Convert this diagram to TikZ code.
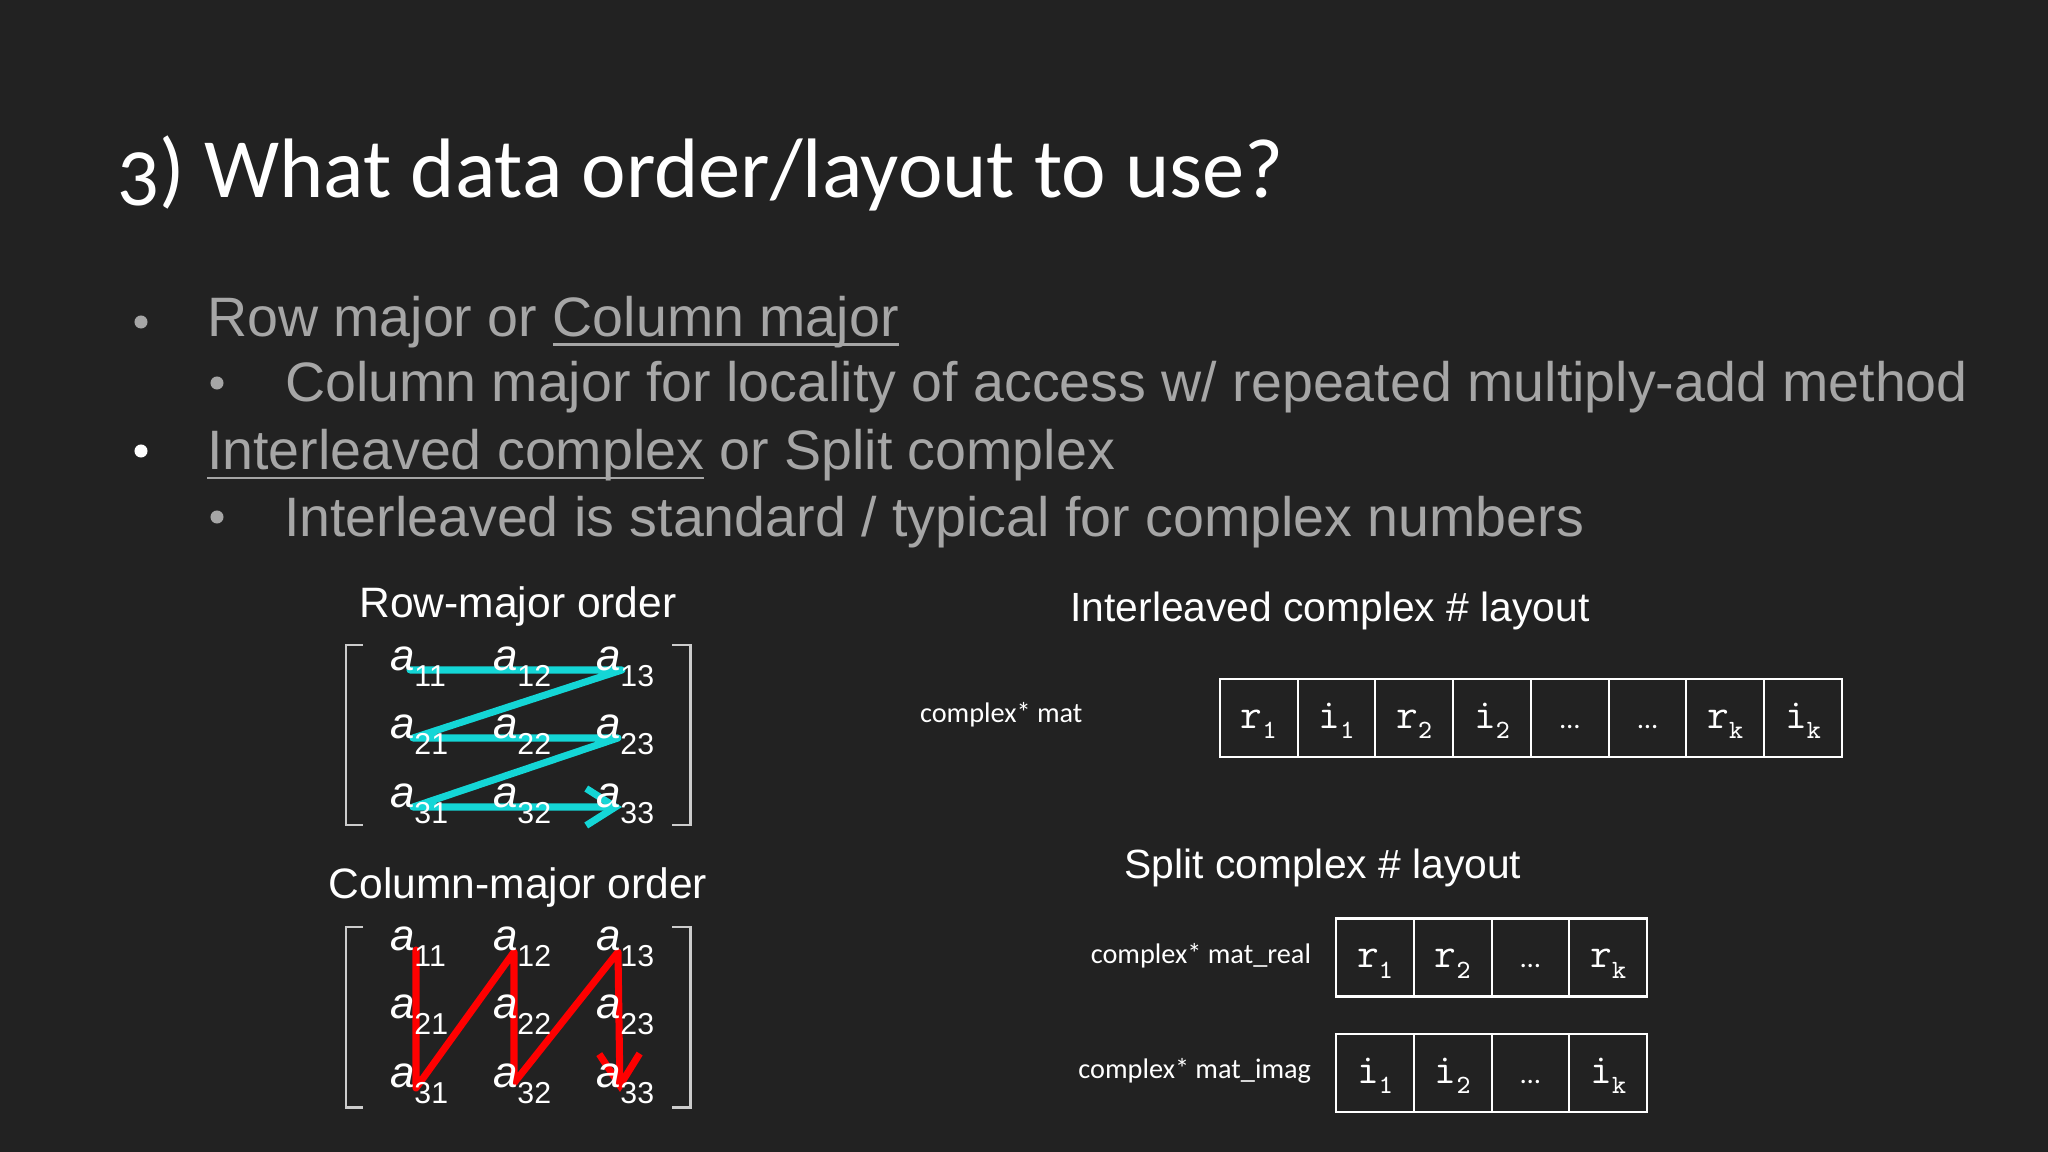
\documentclass[tikz,border=0pt]{standalone}
\usepackage{fontspec}
\setmainfont{Liberation Sans}
\newfontfamily\titlefont[Numbers=OldStyle]{Carlito}
\newfontfamily\labelfont{Carlito}
\usetikzlibrary{arrows.meta, positioning, calc}
\definecolor{SlideBg}{RGB}{34,34,34}
\definecolor{BulletGray}{RGB}{166,166,166}
\definecolor{RowCyan}{RGB}{20,214,214}
\definecolor{ColRed}{RGB}{255,0,0}
\pgfdeclarelayer{background}
\pgfsetlayers{background,main}

% thick underline as on the slide
\newcommand{\ulthick}[1]{\setbox0\hbox{#1}\rlap{\rule[-2.7pt]{\wd0}{0.85pt}}\box0\relax}
% matrix entry a_ij
\newcommand{\aentry}[1]{{\fontsize{12.5}{14}\selectfont\itshape a}\raisebox{-4.6pt}{\fontsize{8.6}{10}\selectfont #1}}
% memory cell content
\newcommand{\memsub}[2]{{\ttfamily\fontsize{12}{14}\selectfont #1}\raisebox{-3.1pt}{\ttfamily\fontsize{7.5}{9}\selectfont #2}}
\newcommand{\memdots}{{\labelfont\fontsize{8.05}{10}\selectfont …}}

\begin{document}
\begin{tikzpicture}[
    x=0.01cm, y=-0.01cm,
    every node/.style={inner sep=0pt, outer sep=0pt, text=white},
    bullettext/.style={anchor=base west, text=BulletGray, font=\fontsize{15.8}{19}\selectfont},
    bulletdot/.style={circle, fill=BulletGray, minimum size=3.7pt},
    caption/.style={anchor=base, font=\fontsize{12.1}{14}\selectfont},
    layoutcap/.style={anchor=base, font=\fontsize{11.6}{14}\selectfont},
    ptrlabel/.style={font=\labelfont\fontsize{8.05}{10}\selectfont},
    entry/.style={anchor=base west},
    memcell/.style={draw=white, line width=0.6pt, minimum width=0.777cm,
                    minimum height=0.78cm, text height=5.7pt, text depth=0pt},
    bracket/.style={draw=white!80!black, line width=0.85pt},
    rowpath/.style={RowCyan, line width=2pt, line cap=round, line join=round},
    colpath/.style={ColRed, line width=2pt, line cap=round, line join=round}
]
\begin{pgfonlayer}{background}
\fill[SlideBg] (0,0) rectangle (2048,1152);
\end{pgfonlayer}
\useasboundingbox (0,0) rectangle (2048,1152);

% title and bullets
\node[anchor=base west, font=\titlefont\fontsize{24}{29}\selectfont] (title) at (117,198) {3) What data order/layout to use?};
\node[bullettext] (b1) at (207,337) {Row major or \ulthick{Column major}};
\node[bullettext] (b2) at (285,402) {Column major for locality of access w/ repeated multiply-add method};
\node[bullettext] (b3) at (207,470) {\ulthick{Interleaved complex} or Split complex};
\node[bullettext] (b4) at (284,537) {Interleaved is standard / typical for complex numbers};
\node[bulletdot] (d1) at (141,322) {};
\node[bulletdot] (d2) at (217,383) {};
\node[bulletdot, fill=white] (d3) at (141,451) {};
\node[bulletdot] (d4) at (217,517) {};

% row-major matrix
\node[caption] (rowcap) at (518,617) {Row-major order};
\draw[bracket] (363,645) -| (346,825) -- (363,825);
\draw[bracket] (672,645) -| (690,825) -- (672,825);
\foreach \r/\y in {1/670,2/738,3/807}
  \foreach \c/\x in {1/390,2/493,3/596}
    \node[entry] (r\r\c) at (\x,\y) {\aentry{\r\c}};

% column-major matrix
\node[caption] (colcap) at (518,898) {Column-major order};
\draw[bracket] (363,927) -| (346,1107) -- (363,1107);
\draw[bracket] (672,927) -| (690,1107) -- (672,1107);
\foreach \r/\y in {1/950,2/1018,3/1087}
  \foreach \c/\x in {1/390,2/493,3/596}
    \node[entry] (c\r\c) at (\x,\y) {\aentry{\r\c}};

\begin{pgfonlayer}{background}
\draw[rowpath, -{Straight Barb[length=8.3pt, width=10.5pt]}]
  ($(r11.base west)+(20,0)$) -- ($(r13.base west)+(26,0)$)
  -- ($(r21.base west)+(23,0)$) -- ($(r23.base west)+(22,0)$)
  -- ($(r31.base west)+(23,0)$) -- ($(r33.base west)+(26,0)$);
\draw[colpath, -{Straight Barb[length=9pt, width=11.5pt]}]
  ($(c11.base west)+(26,0)$) -- ($(c31.base west)+(26,1)$)
  -- ($(c12.base west)+(21,2)$) -- ($(c32.base west)+(21,-4)$)
  -- ($(c13.base west)+(22,2)$) -- ($(c33.base west)+(24,5)$);
\end{pgfonlayer}

% interleaved layout
\node[layoutcap] (ilcap) at (1330,622) {Interleaved complex \# layout};
\node[ptrlabel, anchor=base west] (ilptr) at (920,722) {complex* mat};
\node[memcell] (il1) at (1258.8,718) {\memsub{r}{1}};
\node[memcell, right=0pt of il1] (il2) {\memsub{i}{1}};
\node[memcell, right=0pt of il2] (il3) {\memsub{r}{2}};
\node[memcell, right=0pt of il3] (il4) {\memsub{i}{2}};
\node[memcell, right=0pt of il4] (il5) {\memdots};
\node[memcell, right=0pt of il5] (il6) {\memdots};
\node[memcell, right=0pt of il6] (il7) {\memsub{r}{k}};
\node[memcell, right=0pt of il7] (il8) {\memsub{i}{k}};

% split layout
\node[layoutcap] (spcap) at (1323,878) {Split complex \# layout};
\node[ptrlabel, anchor=base east] (reptr) at (1311,963) {complex* mat\_real};
\node[memcell] (re1) at (1375,957.5) {\memsub{r}{1}};
\node[memcell, right=0pt of re1] (re2) {\memsub{r}{2}};
\node[memcell, right=0pt of re2] (re3) {\memdots};
\node[memcell, right=0pt of re3] (re4) {\memsub{r}{k}};
\node[ptrlabel, anchor=base east] (imptr) at (1311,1078) {complex* mat\_imag};
\node[memcell] (im1) at (1375,1073) {\memsub{i}{1}};
\node[memcell, right=0pt of im1] (im2) {\memsub{i}{2}};
\node[memcell, right=0pt of im2] (im3) {\memdots};
\node[memcell, right=0pt of im3] (im4) {\memsub{i}{k}};
\end{tikzpicture}
\end{document}
